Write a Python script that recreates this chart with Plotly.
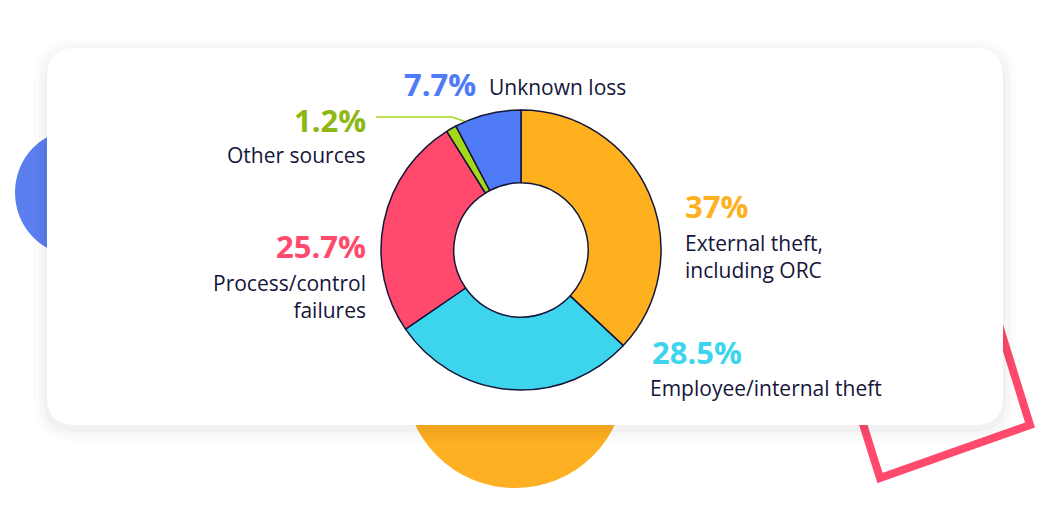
import plotly.graph_objects as go

labels = ["External theft, including ORC", "Employee/internal theft", "Process/control failures",
          "Other sources", "Unknown loss"]
values = [37, 28.5, 25.7, 1.2, 7.7]
colors = ["#FFB01F", "#3DD5EE", "#FF4A6E", "#A6D81A", "#4F7BF7"]
pct_text = ["37%", "28.5%", "25.7%", "1.2%", "7.7%"]
pct_colors = ["#FFB01F", "#3DD5EE", "#FF4A6E", "#8DB814", "#4F7BF7"]

W, H = 1050, 518
OFF = 8  # page body margin
navy = "#15163A"
font = "Open Sans"

cx, cy, r = 521 - OFF, 250 - OFF, 140
fig = go.Figure(go.Pie(
    values=values, labels=labels, hole=0.48, sort=False, direction="clockwise",
    rotation=0, marker=dict(colors=colors, line=dict(color=navy, width=1.5)),
    textinfo="none", hoverinfo="label+percent", showlegend=False,
    domain=dict(x=[(cx - r) / W, (cx + r) / W], y=[(H - cy - r) / H, (H - cy + r) / H]),
))


def rr(x0, y0, x1, y1, r):
    return (f"M{x0+r},{y0} L{x1-r},{y0} Q{x1},{y0} {x1},{y0+r} L{x1},{y1-r} Q{x1},{y1} {x1-r},{y1} "
            f"L{x0+r},{y1} Q{x0},{y1} {x0},{y1-r} L{x0},{y0+r} Q{x0},{y0} {x0+r},{y0} Z")


shapes = [
    dict(type="circle", x0=15, x1=135, y0=130, y1=255, fillcolor="#5B7FEF", line_width=0, layer="below"),
    dict(type="circle", x0=405, x1=625, y0=270, y1=488, fillcolor="#FDB022", line_width=0, layer="below"),
    dict(type="path", path="M880,478 L1030,425 L985,280 L835,335 Z", line=dict(color="#FF4A6E", width=8),
         layer="below"),
]
for i, a in enumerate([0.025, 0.018, 0.012]):
    d = 3 + i * 5
    shapes.append(dict(type="path", path=rr(47 - d, 48 - d + 4, 1003 + d, 425 + d + 4, 28 + d),
                       fillcolor=f"rgba(0,0,0,{a})", line_width=0, layer="below"))
shapes.append(dict(type="path", path=rr(47, 48, 1003, 425, 28), fillcolor="white", line_width=0, layer="below"))
shapes.append(dict(type="path", path="M376,117 L452,117 L484,128", line=dict(color="#A6D81A", width=1.5),
                   layer="below"))

ann = []


def txt(x, y, s, size, color, anchor, bold=False):
    ann.append(dict(x=x, y=y, text=f"<b>{s}</b>" if bold else s, showarrow=False, xref="x", yref="y",
                    xanchor=anchor, yanchor="middle", align=anchor,
                    font=dict(family=font, size=size, color=color)))


txt(683, 206, pct_text[0], 31, pct_colors[0], "left", True)
txt(683, 256, "External theft,<br>including ORC", 21, navy, "left")
txt(650, 352, pct_text[1], 31, pct_colors[1], "left", True)
txt(648, 388, "Employee/internal theft", 21, navy, "left")
txt(368, 246, pct_text[2], 31, pct_colors[2], "right", True)
txt(368, 296, "Process/control<br>failures", 21, navy, "right")
txt(368, 120, pct_text[3], 31, pct_colors[3], "right", True)
txt(368, 155, "Other sources", 21, navy, "right")
txt(478, 84, pct_text[4], 31, pct_colors[4], "right", True)
txt(487, 87, "Unknown loss", 21, navy, "left")

fig.update_layout(
    width=W, height=H, margin=dict(l=0, r=0, t=0, b=0),
    paper_bgcolor="white", plot_bgcolor="white",
    xaxis=dict(range=[OFF, W + OFF], visible=False, fixedrange=True),
    yaxis=dict(range=[H + OFF, OFF], visible=False, fixedrange=True),
    shapes=shapes, annotations=ann,
)
fig.write_html("out.html")
